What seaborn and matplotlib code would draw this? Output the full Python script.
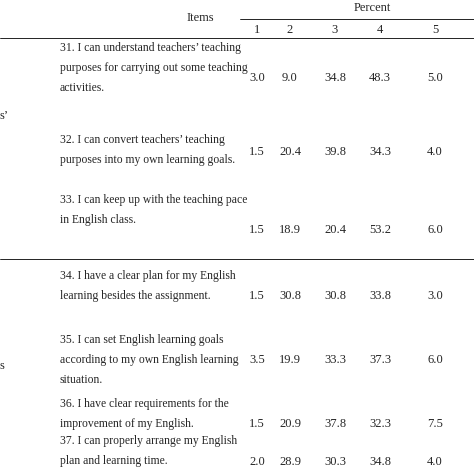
import matplotlib.pyplot as plt
import seaborn as sns

items = [
    ["31. I can understand teachers\u2019 teaching", "purposes for carrying out some teaching", "activities."],
    ["32. I can convert teachers\u2019 teaching", "purposes into my own learning goals."],
    ["33. I can keep up with the teaching pace", "in English class."],
    ["34. I have a clear plan for my English", "learning besides the assignment."],
    ["35. I can set English learning goals", "according to my own English learning", "situation."],
    ["36. I have clear requirements for the", "improvement of my English."],
    ["37. I can properly arrange my English", "plan and learning time."],
]
percents = [
    [3.0, 9.0, 34.8, 48.3, 5.0],
    [1.5, 20.4, 39.8, 34.3, 4.0],
    [1.5, 18.9, 20.4, 53.2, 6.0],
    [1.5, 30.8, 30.8, 33.8, 3.0],
    [3.5, 19.9, 33.3, 37.3, 6.0],
    [1.5, 20.9, 37.8, 32.3, 7.5],
    [2.0, 28.9, 30.3, 34.8, 4.0],
]
scale_labels = ["1", "2", "3", "4", "5"]
side_labels = ["s\u2019", "s"]

sns.set_theme(style="white")
plt.rcParams['font.family'] = ['Liberation Serif', 'DejaVu Serif']

fig = plt.figure(figsize=(4.74, 4.74), dpi=100)
ax = fig.add_axes([0, 0, 1, 1])
ax.set_xlim(0, 474)
ax.set_ylim(474, 0)
ax.axis('off')

fs = 8.4
vfs = 9
col_x = [257, 290, 335, 380, 435]
ax.text(200, 18, "Items", ha='center', va='center', fontsize=vfs)
ax.text(372, 8, "Percent", ha='center', va='center', fontsize=vfs)
for x, lab in zip(col_x, scale_labels):
    ax.text(x, 30, lab, ha='center', va='center', fontsize=vfs)
ax.plot([240, 474], [19, 19], color='black', lw=0.6)
ax.plot([0, 474], [38, 38], color='black', lw=0.6)
ax.plot([0, 474], [259, 259], color='black', lw=0.6)

text_tops = [48, 140, 200, 276, 340, 404, 441]
value_y = [78, 152, 230, 296, 360, 424, 462]
for lines, top, vy, vals in zip(items, text_tops, value_y, percents):
    for i, line in enumerate(lines):
        ax.text(60, top + 20 * i, line, ha='left', va='center', fontsize=fs)
    for x, v in zip(col_x, vals):
        ax.text(x, vy, f"{v:.1f}", ha='center', va='center', fontsize=vfs)

ax.text(0, 116, side_labels[0], ha='left', va='center', fontsize=vfs)
ax.text(0, 366, side_labels[1], ha='left', va='center', fontsize=vfs)

fig.savefig("out.png", dpi=100)
